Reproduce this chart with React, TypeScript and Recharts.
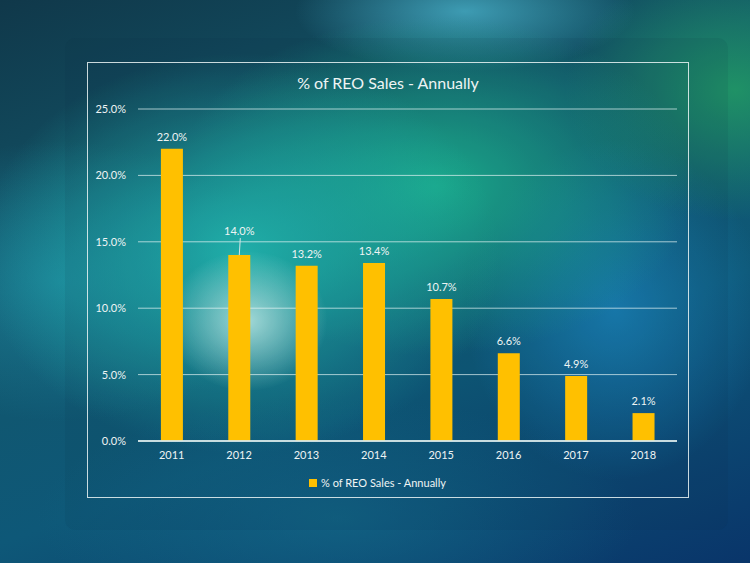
import React from 'react';
import { BarChart, Bar, XAxis, YAxis, CartesianGrid, Legend, LabelList } from 'recharts';

const years = ['2011', '2012', '2013', '2014', '2015', '2016', '2017', '2018'];
const reoShare = [22.0, 14.0, 13.2, 13.4, 10.7, 6.6, 4.9, 2.1];
const yTicks = [0, 5, 10, 15, 20, 25];

const seriesName = '% of REO Sales - Annually';
const data = years.map((year, i) => ({ year, value: reoShare[i] }));

const FONT = 'Lato, "Open Sans", sans-serif';
const TEXT = '#eef4f4';

const background = [
  'radial-gradient(ellipse 80px 70px at 33% 57%, rgba(200,245,240,0.85), rgba(200,245,240,0) 100%)',
  'radial-gradient(ellipse 260px 200px at 32% 45%, rgba(35,195,185,0.9), rgba(35,195,185,0) 100%)',
  'radial-gradient(ellipse 260px 170px at 58% 33%, rgba(30,195,150,0.85), rgba(30,195,150,0) 100%)',
  'radial-gradient(ellipse 170px 130px at 98% 16%, rgba(35,160,100,0.8), rgba(35,160,100,0) 100%)',
  'radial-gradient(ellipse 150px 170px at 82% 55%, rgba(30,150,215,0.6), rgba(30,150,215,0) 100%)',
  'radial-gradient(ellipse 170px 60px at 62% 2%, rgba(80,190,215,0.7), rgba(80,190,215,0) 100%)',
  'radial-gradient(ellipse 220px 140px at 8% 50%, rgba(30,135,160,0.7), rgba(30,135,160,0) 100%)',
  'radial-gradient(ellipse 300px 120px at 45% 92%, rgba(20,110,140,0.6), rgba(20,110,140,0) 100%)',
  'linear-gradient(160deg, #10384a 0%, #12566a 35%, #0e5878 65%, #09356a 100%)',
].join(', ');

const renderValueLabel = (props: any) => {
  const { x, y, width, value, index } = props;
  const cx = x + width / 2;
  const raised = index === 1;
  const ty = raised ? y - 20 : y - 8;
  return (
    <g>
      {raised && <line x1={cx} y1={y} x2={cx + 1} y2={y - 17} stroke="#d8e4e4" strokeWidth={1} />}
      <text x={cx} y={ty} textAnchor="middle" fill={TEXT} fontSize={11} fontFamily={FONT}>
        {`${Number(value).toFixed(1)}%`}
      </text>
    </g>
  );
};

export default function App() {
  return (
    <div
      style={{
        position: 'absolute',
        left: 0,
        top: 0,
        width: 750,
        height: 563,
        background,
        overflow: 'hidden',
        fontFamily: FONT,
      }}
    >
      <div
        style={{
          position: 'absolute',
          left: 65,
          top: 38,
          width: 663,
          height: 492,
          borderRadius: 10,
          background: 'rgba(10,40,60,0.08)',
        }}
      />
      <div
        style={{
          position: 'absolute',
          left: 87,
          top: 62,
          width: 600,
          height: 434,
          border: '1px solid rgba(235,245,245,0.85)',
        }}
      >
        <div
          style={{
            position: 'absolute',
            left: 0,
            top: 10,
            width: '100%',
            textAlign: 'center',
            color: TEXT,
            fontSize: 16,
          }}
        >
          {seriesName}
        </div>
        <BarChart
          width={600}
          height={434}
          data={data}
          margin={{ top: 46, right: 11, left: 0, bottom: 0 }}
          barCategoryGap="34%"
        >
          <CartesianGrid vertical={false} stroke="rgba(230,245,245,0.7)" strokeWidth={1} />
          <XAxis
            dataKey="year"
            height={30}
            tickLine={false}
            axisLine={{ stroke: 'rgba(220,235,235,0.85)', strokeWidth: 2 }}
            tick={{ fill: TEXT, fontSize: 11, fontFamily: FONT }}
            tickMargin={4}
          />
          <YAxis
            width={50}
            domain={[0, 25]}
            ticks={yTicks}
            tickLine={false}
            axisLine={false}
            tickMargin={6}
            tickFormatter={(v: number) => `${v.toFixed(1)}%`}
            tick={{ fill: TEXT, fontSize: 11, fontFamily: FONT }}
          />
          <Legend
            verticalAlign="bottom"
            height={26}
            iconType="square"
            iconSize={8}
            formatter={(v: string) => <span style={{ color: TEXT, fontSize: 11, fontFamily: FONT }}>{v}</span>}
          />
          <Bar dataKey="value" name={seriesName} fill="#FFC000" isAnimationActive={false}>
            <LabelList dataKey="value" content={renderValueLabel} />
          </Bar>
        </BarChart>
      </div>
    </div>
  );
}
